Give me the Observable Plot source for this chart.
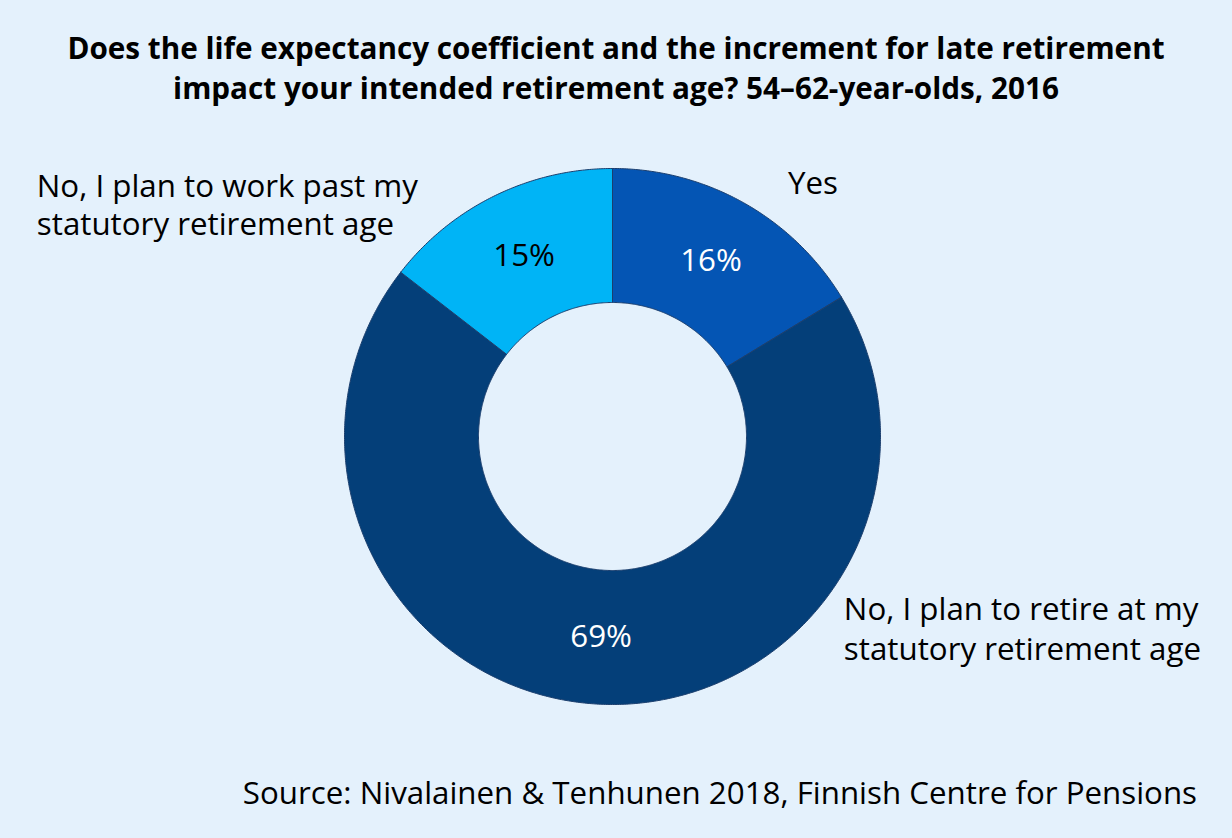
<!DOCTYPE html>
<html>
<head>
<meta charset="utf-8">
<script src="https://cdn.jsdelivr.net/npm/d3@7"></script>
<script src="https://cdn.jsdelivr.net/npm/@observablehq/plot@0.6"></script>
<style>
  html, body { margin: 0; padding: 0; background: #E4F1FC; }
  body { width: 1232px; height: 838px; overflow: hidden; font-family: "Open Sans", "Noto Sans", sans-serif; color: #000; }
  #title { height: 115px; box-sizing: border-box; padding-top: 28px; text-align: center; font-weight: 700; font-size: 29.7px; line-height: 40px; white-space: nowrap; }
  #chart svg { display: block; }
  #caption { position: absolute; left: 0; top: 772px; width: 1197px; text-align: right; font-size: 31.3px; line-height: 40px; white-space: nowrap; }
</style>
</head>
<body>
<div id="title">Does the life expectancy coefficient and the increment for late retirement<br>impact your intended retirement age? 54–62-year-olds, 2016</div>
<div id="chart"></div>
<div id="caption">Source: Nivalainen &amp; Tenhunen 2018, Finnish Centre for Pensions</div>
<script>
const categories = ["Yes", "No, I plan to retire at my statutory retirement age", "No, I plan to work past my statutory retirement age"];
const values = [16.3, 69.2, 14.5];
const colors = ["#0455B4", "#043F79", "#00B4F6"];
const labelColors = ["white", "white", "black"];

const W = 1232, H = 640;
const cx = 612, cy = 321, R = 268; // layout of the donut in pixels
const inner = 0.5;

const total = d3.sum(values);
let acc = 0;
const slices = categories.map((c, i) => {
  const a0 = acc / total * 2 * Math.PI;
  acc += values[i];
  const a1 = acc / total * 2 * Math.PI;
  return {category: c, value: values[i], a0, a1, mid: (a0 + a1) / 2, i};
});

// polygon outline points for each slice
const pts = [];
for (const s of slices) {
  const n = Math.max(2, Math.ceil((s.a1 - s.a0) / (Math.PI / 360)));
  const ring = [];
  for (let k = 0; k <= n; k++) {
    const a = s.a0 + (s.a1 - s.a0) * k / n;
    ring.push({x: Math.sin(a), y: Math.cos(a)});
  }
  for (let k = n; k >= 0; k--) {
    const a = s.a0 + (s.a1 - s.a0) * k / n;
    ring.push({x: inner * Math.sin(a), y: inner * Math.cos(a)});
  }
  ring.push(ring[0]);
  for (const p of ring) pts.push({...p, category: s.category});
}

const pct = slices.map(s => ({
  x: 0.75 * Math.sin(s.mid), y: 0.75 * Math.cos(s.mid),
  text: Math.round(s.value) + "%", color: labelColors[s.i]
}));
const outer = slices.map(s => ({x: 1.1 * Math.sin(s.mid), y: 1.1 * Math.cos(s.mid), s}));

const fs = 31.3;
const plot = Plot.plot({
  width: W, height: H,
  marginTop: 0, marginBottom: 0, marginLeft: 0, marginRight: 0,
  style: {background: "transparent", fontFamily: "'Open Sans', 'Noto Sans', sans-serif"},
  x: {domain: [-cx / R, (W - cx) / R], axis: null},
  y: {domain: [-(H - cy) / R, cy / R], axis: null},
  color: {domain: categories, range: colors},
  marks: [
    Plot.line(pts, {x: "x", y: "y", z: "category", fill: "category", stroke: "#1C3F6E", strokeWidth: 1, curve: "linear"}),
    Plot.text(pct, {x: "x", y: "y", text: "text", fill: "color", fontSize: fs}),
    Plot.text([outer[0]], {x: "x", y: "y", text: () => "Yes", textAnchor: "start", dx: 31, dy: 4, fontSize: fs, fill: "black"}),
    Plot.text([outer[1]], {x: "x", y: "y", text: () => "No, I plan to retire at my\nstatutory retirement age", textAnchor: "start", dx: 248, dy: -104, fontSize: fs, lineHeight: 1.28, fill: "black"}),
    Plot.text([outer[2]], {x: "x", y: "y", text: () => "No, I plan to work past my\nstatutory retirement age", textAnchor: "start", dx: -446, dy: 32, fontSize: fs, lineHeight: 1.21, fill: "black"})
  ]
});
document.getElementById("chart").appendChild(plot);
</script>
</body>
</html>
